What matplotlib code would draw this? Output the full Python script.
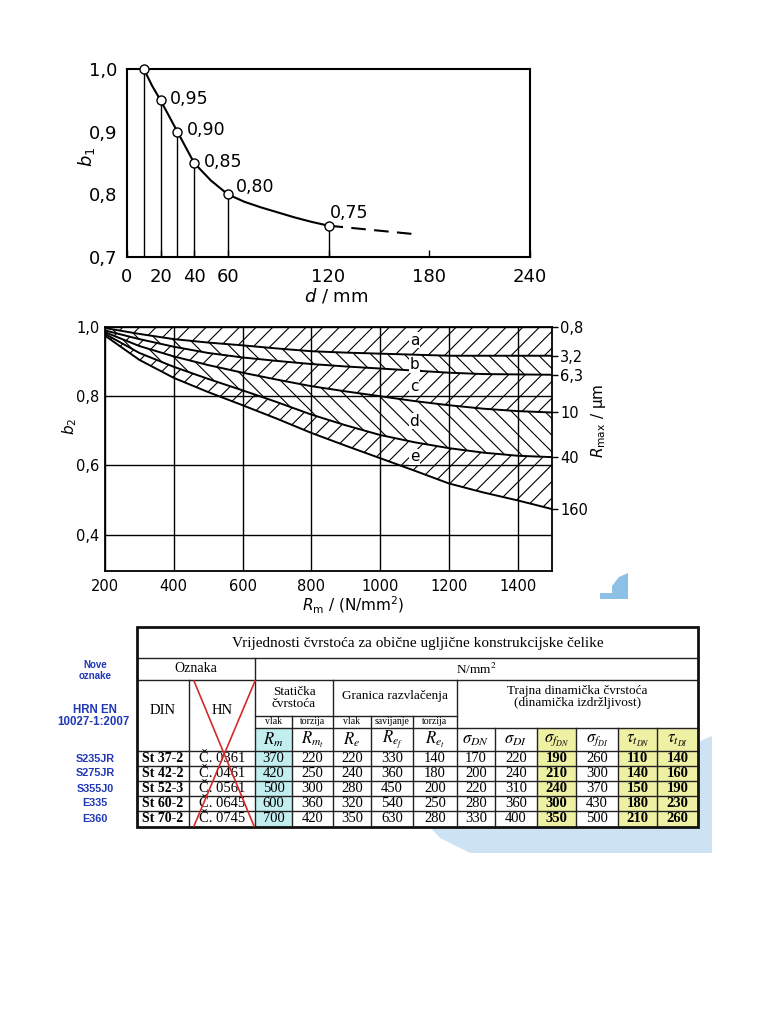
import numpy as np
import matplotlib
matplotlib.use("Agg")
import matplotlib.pyplot as plt
from matplotlib.patches import Polygon, Rectangle

plt.rcParams['font.family'] = 'DejaVu Sans'
plt.rcParams['hatch.linewidth'] = 0.8

# ---------------- podaci: dijagram b1 ----------------
d_pts = [10, 20, 30, 40, 60, 120]
b1_pts = [1.0, 0.95, 0.90, 0.85, 0.80, 0.75]
d_curve = [10, 15, 20, 25, 30, 35, 40, 50, 60, 70, 80, 90, 100, 110, 120]
b1_curve = [1.0, 0.973, 0.95, 0.925, 0.90, 0.875, 0.85, 0.822, 0.80, 0.788,
            0.779, 0.771, 0.763, 0.756, 0.75]
d_dash = [120, 173]
b1_dash = [0.75, 0.736]
d_ticks = [0, 20, 40, 60, 120, 180, 240]
b1_ticks = [0.7, 0.8, 0.9, 1.0]

# ---------------- podaci: dijagram b2 ----------------
rm = [200, 300, 400, 500, 600, 700, 800, 900, 1000, 1100, 1200, 1300, 1400, 1500]
b2_r08 = [1.0] * len(rm)
b2_r32 = [0.997, 0.98, 0.965, 0.955, 0.947, 0.938, 0.930, 0.926, 0.923, 0.92,
          0.917, 0.917, 0.917, 0.917]
b2_r63 = [0.99, 0.965, 0.943, 0.925, 0.912, 0.902, 0.893, 0.886, 0.880, 0.874,
          0.868, 0.864, 0.863, 0.862]
b2_r10 = [0.985, 0.945, 0.915, 0.89, 0.868, 0.848, 0.829, 0.814, 0.800, 0.786,
          0.774, 0.764, 0.757, 0.753]
b2_r40 = [0.98, 0.925, 0.885, 0.85, 0.817, 0.783, 0.747, 0.716, 0.688, 0.667,
          0.650, 0.637, 0.628, 0.624]
b2_r160 = [0.975, 0.905, 0.853, 0.812, 0.774, 0.735, 0.694, 0.657, 0.621, 0.585,
           0.548, 0.522, 0.499, 0.474]
curves = [b2_r08, b2_r32, b2_r63, b2_r10, b2_r40, b2_r160]
rmax_labels = ['0,8', '3,2', '6,3', '10', '40', '160']
zone_names = ['a', 'b', 'c', 'd', 'e']
zone_label_y = [0.962, 0.892, 0.829, 0.728, 0.625]
zone_hatch = ['//', '\\\\', '//', '\\\\', '//']

# ---------------- podaci: tablica ----------------
nove_oznake = ['S235JR', 'S275JR', 'S355J0', 'E335', 'E360']
din = ['St 37-2', 'St 42-2', 'St 52-3', 'St 60-2', 'St 70-2']
hn = ['Č. 0361', 'Č. 0461', 'Č. 0561', 'Č. 0645', 'Č. 0745']
R_m = [370, 420, 500, 600, 700]
R_mt = [220, 250, 300, 360, 420]
R_e = [220, 240, 280, 320, 350]
R_ef = [330, 360, 450, 540, 630]
R_et = [140, 180, 200, 250, 280]
sig_DN = [170, 200, 220, 280, 330]
sig_DI = [220, 240, 310, 360, 400]
sig_fDN = [190, 210, 240, 300, 350]
sig_fDI = [260, 300, 370, 430, 500]
tau_tDN = [110, 140, 150, 180, 210]
tau_tDI = [140, 160, 190, 230, 260]
symbols = [r'$R_m$', r'$R_{m_t}$', r'$R_e$', r'$R_{e_f}$', r'$R_{e_t}$',
           r'$\sigma_{DN}$', r'$\sigma_{DI}$', r'$\sigma_{f_{DN}}$',
           r'$\sigma_{f_{DI}}$', r'$\tau_{t_{DN}}$', r'$\tau_{t_{DI}}$']
sub_heads = ['vlak', 'torzija', 'vlak', 'savijanje', 'torzija']


def zarez(v, fmt):
    return format(v, fmt).replace('.', ',')


fig = plt.figure(figsize=(7.68, 10.24), dpi=100)

# ================= DIJAGRAM 1 =================
ax1 = fig.add_axes([127/768, 1-257/1024, 403/768, 188/1024])
ax1.set_xlim(0, 240)
ax1.set_ylim(0.7, 1.0)
ax1.vlines(d_pts, 0.7, b1_pts, color='k', lw=1)
ax1.plot(d_curve, b1_curve, color='k', lw=1.5)
ax1.plot(d_dash, b1_dash, color='k', lw=1.5, dashes=(7, 4))
ax1.plot(d_pts, b1_pts, 'o', mfc='white', mec='k', ms=6.5, mew=1, clip_on=False, zorder=5)
offs = [(7, 1), (7, 1), (7, 1), (6, 5), (1, 9)]
for (d, b), o in zip(list(zip(d_pts, b1_pts))[1:], offs):
    ax1.annotate(zarez(b, '.2f'), (d, b), xytext=o, textcoords='offset points',
                 ha='left', va='center', fontsize=12.5)
ax1.set_xticks(d_ticks)
ax1.set_xticklabels([str(v) for v in d_ticks])
ax1.set_yticks(b1_ticks)
ax1.set_yticklabels([zarez(v, '.1f') for v in b1_ticks])
ax1.tick_params(axis='x', direction='in', length=5, width=1, pad=8, labelsize=13)
ax1.tick_params(axis='y', length=0, pad=7, labelsize=13)
for s in ax1.spines.values():
    s.set_linewidth(1.5)
ax1.set_xlabel('$d$ / mm', fontsize=13, va='center')
ax1.xaxis.set_label_coords(0.52, -0.207)
ax1.set_ylabel('$b_1$', fontsize=13, va='center')
ax1.yaxis.set_label_coords(-0.1, 0.533)

# ================= DIJAGRAM 2 =================
ax2 = fig.add_axes([105/768, 1-571/1024, 447/768, 244/1024])
ax2.set_xlim(200, 1500)
ax2.set_ylim(0.295, 1.0)
ax2.set_xticks(range(200, 1401, 200))
ax2.set_xticklabels([str(v) for v in range(200, 1401, 200)])
ax2.set_yticks([0.4, 0.6, 0.8, 1.0])
ax2.set_yticklabels([zarez(v, '.1f') for v in [0.4, 0.6, 0.8, 1.0]])
ax2.grid(color='k', lw=1)
ax2.set_axisbelow(True)
for i in range(5):
    ax2.fill_between(rm, curves[i], curves[i+1], facecolor='none', edgecolor='k',
                     hatch=zone_hatch[i], lw=0)
for c in curves[1:]:
    ax2.plot(rm, c, color='k', lw=1.4)
for name, y in zip(zone_names, zone_label_y):
    ax2.text(1100, y, name, ha='center', va='center', fontsize=11,
             bbox=dict(facecolor='white', edgecolor='none', pad=0.6))
ax2.tick_params(length=0, labelsize=10.5)
ax2.tick_params(axis='x', pad=6)
ax2.tick_params(axis='y', pad=4)
for s in ax2.spines.values():
    s.set_linewidth(1.3)
ax2.set_xlabel(r'$R_\mathrm{m}$ / (N/mm$^2$)', fontsize=11, va='center')
ax2.xaxis.set_label_coords(0.555, -0.143)
ax2.set_ylabel('$b_2$', fontsize=11, va='center')
ax2.yaxis.set_label_coords(-0.078, 0.594)

ax2r = ax2.twinx()
ax2r.set_ylim(ax2.get_ylim())
ax2r.set_yticks([c[-1] for c in curves])
ax2r.set_yticklabels(rmax_labels)
ax2r.tick_params(axis='y', length=4, width=1, pad=2, labelsize=10.5)
for s in ax2r.spines.values():
    s.set_visible(False)
ax2r.set_ylabel(r'$R_\mathrm{max}$ / µm', fontsize=11, va='center')
ax2r.yaxis.set_label_coords(1.105, 0.615)

# ================= TABLICA =================
axt = fig.add_axes([0, 0, 1, 1], zorder=-1)
axt.set_xlim(0, 768)
axt.set_ylim(1024, 0)
axt.axis('off')

# ukrasni plavi oblici u pozadini
axt.add_patch(Polygon([(600, 599), (628, 599), (628, 573), (619, 577), (612, 586),
                       (612, 593), (600, 593)], closed=True, fc='#8ec0e6', ec='none'))
axt.add_patch(Polygon([(698, 742), (712, 736), (712, 853), (470, 853), (440, 838),
                       (430, 827), (698, 827)], closed=True, fc='#cde3f4', ec='none'))

col_x = [137, 189, 255, 292, 333, 371, 413, 457, 495, 537, 576, 618, 657, 698]
row_y = [751, 766, 781, 796, 811, 827]
top, y_unit, y_grp, y_sub, y_sym = 627, 658, 680, 716, 728
left, right = col_x[0], col_x[-1]
serif = 'Liberation Serif'

# obojane kolone
cyan = '#c3eef0'
yellow = '#eef0a4'
axt.add_patch(Rectangle((col_x[2], y_sym), col_x[3]-col_x[2], row_y[-1]-y_sym, fc=cyan, ec='none'))
for ci in [9, 11, 12]:
    axt.add_patch(Rectangle((col_x[ci], y_sym), col_x[ci+1]-col_x[ci], row_y[-1]-y_sym,
                            fc=yellow, ec='none'))
axt.add_patch(Rectangle((left, top), right-left, row_y[-1]-top, fc='white', ec='none', zorder=0))

lk = dict(color='#222222', lw=1)
# horizontalne linije
axt.plot([left, right], [y_unit, y_unit], **lk)
axt.plot([left, right], [y_grp, y_grp], **lk)
axt.plot([col_x[2], col_x[7]], [y_sub, y_sub], **lk)
axt.plot([col_x[2], right], [y_sym, y_sym], **lk)
for y in row_y[:-1]:
    axt.plot([left, right], [y, y], **lk)
# vertikalne linije
axt.plot([col_x[2], col_x[2]], [y_unit, row_y[-1]], **lk)
axt.plot([col_x[1], col_x[1]], [y_grp, row_y[-1]], **lk)
for ci in [4, 7]:
    axt.plot([col_x[ci], col_x[ci]], [y_grp, row_y[-1]], **lk)
for ci in [3, 5, 6]:
    axt.plot([col_x[ci], col_x[ci]], [y_sub, row_y[-1]], **lk)
for ci in range(8, 13):
    axt.plot([col_x[ci], col_x[ci]], [y_sym, row_y[-1]], **lk)
axt.add_patch(Rectangle((left, top), right-left, row_y[-1]-top, fc='none', ec='#111111', lw=2, zorder=3))

# zaglavlje
axt.text((left+right)/2, (top+y_unit)/2+1,
         'Vrijednosti čvrstoća za obične ugljične konstrukcijske čelike',
         ha='center', va='center', family=serif, fontsize=11)
axt.text((col_x[0]+col_x[2])/2, (y_unit+y_grp)/2, 'Oznaka', ha='center', va='center',
         family=serif, fontsize=10)
axt.text((col_x[2]+right)/2, (y_unit+y_grp)/2, 'N/mm$^2$', ha='center', va='center',
         family=serif, fontsize=9.5, math_fontfamily='stix')
axt.text((col_x[0]+col_x[1])/2, 710, 'DIN', ha='center', va='center', family=serif, fontsize=10.5)
axt.text((col_x[1]+col_x[2])/2, 710, 'HN', ha='center', va='center', family=serif, fontsize=10.5)
axt.text((col_x[2]+col_x[4])/2, 698, 'Statička\nčvrstoća', ha='center', va='center',
         family=serif, fontsize=9.5, linespacing=1.05)
axt.text((col_x[4]+col_x[7])/2, 696, 'Granica razvlačenja', ha='center', va='center',
         family=serif, fontsize=9.5)
axt.text((col_x[7]+right)/2, 697, 'Trajna dinamička čvrstoća\n(dinamička izdržljivost)',
         ha='center', va='center', family=serif, fontsize=9.5, linespacing=1.05)
for i, t in enumerate(sub_heads):
    axt.text((col_x[2+i]+col_x[3+i])/2, (y_sub+y_sym)/2, t, ha='center', va='center',
             family=serif, fontsize=7)
for i, t in enumerate(symbols):
    axt.text((col_x[2+i]+col_x[3+i])/2, (y_sym+row_y[0])/2, t, ha='center', va='center',
             fontsize=12, math_fontfamily='stix')

# podaci
num_cols = [R_m, R_mt, R_e, R_ef, R_et, sig_DN, sig_DI, sig_fDN, sig_fDI, tau_tDN, tau_tDI]
bold_cols = {9, 11, 12}
for r in range(5):
    yc = (row_y[r]+row_y[r+1])/2
    axt.text((col_x[0]+col_x[1])/2, yc, din[r], ha='center', va='center',
             family=serif, fontsize=10, fontweight='bold')
    axt.text((col_x[1]+col_x[2])/2, yc, hn[r], ha='center', va='center',
             family=serif, fontsize=10.5)
    for j, col in enumerate(num_cols):
        ci = 2 + j
        axt.text((col_x[ci]+col_x[ci+1])/2, yc, str(col[r]), ha='center', va='center',
                 family=serif, fontsize=10.5,
                 fontweight='bold' if ci in bold_cols else 'normal')

# prekrižena HN kolona
axt.plot([194, 254], [681, 826], color='#d42a2a', lw=1.2, zorder=4)
axt.plot([255, 194], [681, 826], color='#d42a2a', lw=1.2, zorder=4)

# nove oznake (lijevo)
blue = '#2038b8'
axt.text(95, 665, 'Nove', ha='center', va='center', color=blue, family='Liberation Sans',
         fontsize=7, fontweight='bold')
axt.text(95, 676, 'oznake', ha='center', va='center', color=blue, family='Liberation Sans',
         fontsize=7, fontweight='bold')
axt.text(95, 710, 'HRN EN', ha='center', va='center', color=blue, family='Liberation Sans',
         fontsize=8.3, fontweight='bold')
axt.text(93, 722, '10027-1:2007', ha='center', va='center', color=blue,
         family='Liberation Sans', fontsize=8.3, fontweight='bold')
for r, kod in enumerate(nove_oznake):
    axt.text(95, (row_y[r]+row_y[r+1])/2, kod, ha='center', va='center', color=blue,
             family='Liberation Sans', fontsize=7.8, fontweight='bold')

fig.savefig('out.png', dpi=100)
